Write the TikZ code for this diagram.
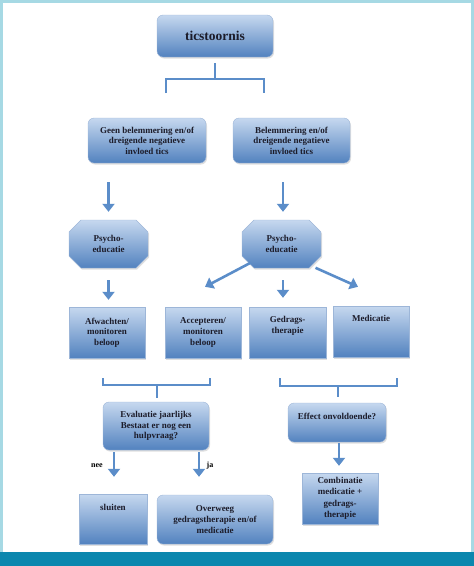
\documentclass[tikz,border=0pt]{standalone}
\usepackage{fontspec}
\setmainfont{Liberation Serif}
\usetikzlibrary{arrows.meta,shadows}

\definecolor{boxtop}{HTML}{C6D8EF}
\definecolor{boxbot}{HTML}{5282BF}
\definecolor{boxline}{HTML}{9DB6D8}
\definecolor{linkblue}{HTML}{5B8DC9}
\definecolor{txtdark}{HTML}{1C1C2A}
\definecolor{framelight}{HTML}{A6D9E4}
\definecolor{bartea}{HTML}{0B87AE}

\newcommand\boxfont{\fontsize{9}{10.6}\selectfont\bfseries}
% octagon outline round a named node, corners cut by 12pt
\newcommand\octpath[1]{([xshift=12pt]#1.north west) -- ([xshift=-12pt]#1.north east)
  -- ([yshift=-12pt]#1.north east) -- ([yshift=12pt]#1.south east)
  -- ([xshift=-12pt]#1.south east) -- ([xshift=12pt]#1.south west)
  -- ([yshift=12pt]#1.south west) -- ([yshift=-12pt]#1.north west) -- cycle}

\tikzset{
  shade/.style={draw=boxline, line width=0.4pt, top color=boxtop, bottom color=boxbot,
    drop shadow={opacity=0.25, shadow xshift=1pt, shadow yshift=-1.5pt}},
  flowbox/.style={shade, text=txtdark, font=\boxfont, align=center, inner sep=2pt},
  rbox/.style={flowbox, rectangle, rounded corners=6pt},
  sbox/.style={flowbox, rectangle},
  octtext/.style={text=txtdark, font=\boxfont, align=center, minimum width=79pt, minimum height=48pt},
  toptext/.style={text=txtdark, font=\boxfont, align=center, anchor=north, yshift=-5pt},
  brk/.style={draw=linkblue, line width=2.2pt},
  flowarr/.style={draw=linkblue, line width=2.6pt, -{Triangle[width=12pt,length=8pt]}},
  yesno/.style={text=black, font=\fontsize{8}{9}\selectfont\bfseries}
}

\begin{document}
\begin{tikzpicture}[x=1pt,y=-1pt]
  % frame
  \useasboundingbox (0,0) rectangle (474,566);
  \fill[framelight] (0,0) rectangle (474,3);
  \fill[framelight] (0,0) rectangle (3,552);
  \fill[framelight] (471,0) rectangle (474,552);
  \fill[bartea] (0,552) rectangle (474,566);

  % top
  \node[rbox, minimum width=116pt, minimum height=42pt, font=\fontsize{13.5}{15}\selectfont\bfseries] (tic) at (215,36) {ticstoornis};
  \node[rbox, minimum width=118pt, minimum height=45pt] (geen) at (147,140.5) {Geen belemmering en/of\\dreigende negatieve\\invloed tics};
  \node[rbox, minimum width=117pt, minimum height=45pt] (bel) at (291.5,140.5) {Belemmering en/of\\dreigende negatieve\\invloed tics};

  \coordinate (tstem) at (215,63);
  \coordinate (tl) at (166,93);
  \coordinate (tr) at (264,93);
  \draw[brk] (tl) -- (166,79) -- (264,79) -- (tr);
  \draw[brk] (tstem) -- (215,79);

  % psycho-educatie
  \path[shade] (69,232) -- (81,220) -- (136,220) -- (148,232) -- (148,256) -- (136,268) -- (81,268) -- (69,256) -- cycle;
  \path[shade] (242,232) -- (254,220) -- (309,220) -- (321,232) -- (321,256) -- (309,268) -- (254,268) -- (242,256) -- cycle;
  \node[octtext] (pl) at (108.5,244) {Psycho-\\educatie};
  \node[octtext] (pr) at (281.5,244) {Psycho-\\educatie};

  \draw[flowarr] ([yshift=-19pt]geen.south -| pl.north) -- ([yshift=8pt]pl.north);
  \draw[flowarr] ([yshift=-19pt]bel.south -| 283,0) -- ([xshift=1.5pt,yshift=8pt]pr.north);

  % treatment row
  \node[sbox, minimum width=76pt, minimum height=51pt] (afw) at (107,332.5) {Afwachten/\\monitoren\\beloop};
  \node[sbox, minimum width=76pt, minimum height=51pt] (acc) at (203,332.5) {Accepteren/\\monitoren\\beloop};
  \node[sbox, minimum width=77pt, minimum height=51pt,
    label={[toptext, yshift=-1pt]north:Gedrags-\\therapie}] (ged) at (287.5,332.5) {};
  \node[sbox, minimum width=76pt, minimum height=51pt,
    label={[toptext, yshift=-1pt]north:Medicatie}] (med) at (371,331.5) {};

  \draw[flowarr] ([yshift=-12pt]pl.south) -- ([yshift=7pt]afw.north -| pl.south);
  \draw[flowarr] ([shift={(-31pt,-43pt)}]pr.north) -- ([shift={(2pt,20pt)}]acc.north);
  \draw[flowarr] ([xshift=1.5pt,yshift=-12pt]pr.south) -- ([yshift=9pt]ged.north -| 283,0);
  \draw[flowarr] ([shift={(34pt,-48pt)}]pr.north) -- ([shift={(-13pt,19pt)}]med.north);

  % lower brackets
  \coordinate (ll) at (103,378);
  \coordinate (lr) at (210,378);
  \coordinate (rl) at (280,378);
  \coordinate (rr) at (397,378);
  \draw[brk] (ll) |- (157,385) -| (lr);
  \draw[brk] (157,385) -- (157,398);
  \draw[brk] (rl) |- (338,386) -| (rr);
  \draw[brk] (338,386) -- (338,397);

  % evaluation
  \node[rbox, minimum width=106pt, minimum height=48pt] (eva) at (156,426) {Evaluatie jaarlijks\\Bestaat er nog een\\hulpvraag?};
  \node[rbox, minimum width=98pt, minimum height=39pt,
    label={[toptext, yshift=-2pt]north:Effect onvoldoende?}] (eff) at (337,422.5) {};

  \node[sbox, minimum width=68pt, minimum height=50pt,
    label={[toptext, yshift=-2pt]north:sluiten}] (slu) at (113,519) {};
  \node[rbox, minimum width=116pt, minimum height=49pt] (ovw) at (215,519.5) {Overweeg\\gedragstherapie en/of\\medicatie};
  \node[sbox, minimum width=76pt, minimum height=51pt, font=\fontsize{9}{11.5}\selectfont\bfseries] (comb) at (340,498.5) {Combinatie\\medicatie +\\gedrags-\\therapie};

  \draw[flowarr] ([xshift=-42pt,yshift=-2pt]eva.south) -- ([xshift=1pt,yshift=17pt]slu.north);
  \draw[flowarr] ([xshift=43pt,yshift=-2pt]eva.south) -- ([xshift=-16pt,yshift=18pt]ovw.north);
  \draw[flowarr] ([xshift=2pt,yshift=-1pt]eff.south) -- ([yshift=7pt]comb.north -| 339,0);

  \node[yesno] (nee) at (97,466) {nee};
  \node[yesno] (ja) at (210,466) {ja};
\end{tikzpicture}
\end{document}
